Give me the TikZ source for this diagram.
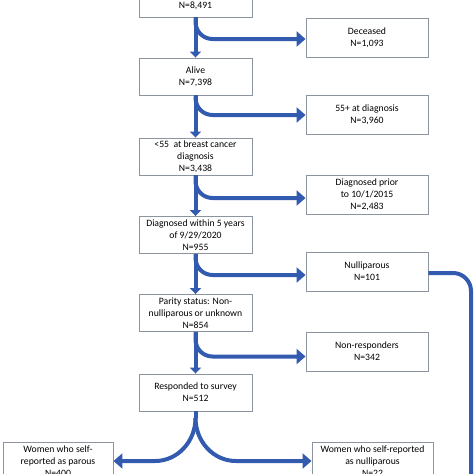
\documentclass[tikz,border=0pt]{standalone}
\usepackage{fontspec}
\setmainfont{Carlito}
\usetikzlibrary{arrows.meta}
\definecolor{flow}{RGB}{50,90,175}
\definecolor{edgegray}{RGB}{140,148,160}
\begin{document}
\begin{tikzpicture}[x=1pt,y=-1pt,
  box/.style={draw=edgegray, line width=0.9pt, fill=white, align=center,
    font=\fontsize{9.7}{11.8}\selectfont, inner sep=0pt},
  lbox/.style={box, minimum width=113pt, minimum height=37pt},
  rbox/.style={box, minimum width=122pt, minimum height=39pt},
  flowline/.style={draw=flow, line width=4pt},
  down/.style={flowline, -{Triangle[width=11pt,length=6pt]}},
  side/.style={flowline, rounded corners=17pt, -{Triangle[width=15pt,length=9pt]}},
  split/.style={flowline, -{Triangle[width=15pt,length=9pt]}},
]
\useasboundingbox (0,0) rectangle (474,474);
\clip (0,0) rectangle (474,474);

\node[lbox, minimum height=36pt] (total) at (195.5,-1) {\strut\\N=8,491};
\node[rbox] (dec) at (367,37.5) {Deceased\\N=1,093};
\node[lbox] (alive) at (195.5,76.5) {Alive\\N=7,398};
\node[rbox] (old) at (367,114.5) {55+ at diagnosis\\N=3,960};
\node[lbox] (young) at (195.5,156.5) {<55~ at breast cancer\\diagnosis\\N=3,438};
\node[rbox] (prior) at (367,195) {Diagnosed prior\\to 10/1/2015\\N=2,483};
\node[lbox] (within) at (195.5,235) {Diagnosed within 5 years\\of 9/29/2020\\N=955};
\node[rbox] (nulli) at (367,271.5) {Nulliparous\\N=101};
\node[lbox] (parity) at (195.5,313) {Parity status: Non-\\nulliparous or unknown\\N=854};
\node[rbox] (nonresp) at (367,351.5) {Non-responders\\N=342};
\node[lbox] (resp) at (195.5,392.5) {Responded to survey\\N=512};
\node[box, minimum width=110pt, minimum height=38pt] (parous) at (58,461) {Women who self-\\reported as parous\\N=400};
\node[box, minimum width=121pt, minimum height=38pt] (selfnull) at (372.5,461) {Women who self-reported\\as nulliparous\\N=22};

\draw[down] (total.south) -- (alive.north);
\draw[side] (total.south) |- ([yshift=-1.5pt]dec.west);
\draw[down] (alive.south) -- (young.north);
\draw[side] (alive.south) |- ([yshift=-0.5pt]old.west);
\draw[down] (young.south) -- (within.north);
\draw[side] (young.south) |- ([yshift=-3pt]prior.west);
\draw[down] (within.south) -- (parity.north);
\draw[side] (within.south) |- ([yshift=-3.5pt]nulli.west);
\draw[down] (parity.south) -- (resp.north);
\draw[side] (parity.south) |- ([yshift=-5pt]nonresp.west);

\coordinate (farend) at (471,530);
\draw[flowline, rounded corners=18pt] ([yshift=-1.5pt]nulli.east) -| (farend);

\coordinate (fork) at (195.5,418);
\draw[flowline] (resp.south) -- (fork);
\draw[split] (fork) to[out=-90,in=0] (155,461) -- (parous.east);
\draw[split] (fork) to[out=-90,in=180] (236,461) -- (selfnull.west);
\end{tikzpicture}
\end{document}
